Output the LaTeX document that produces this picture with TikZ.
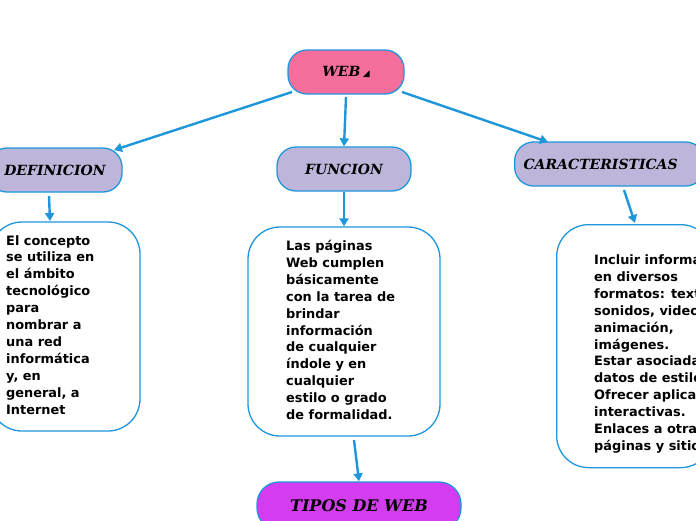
\documentclass[tikz,border=0pt]{standalone}
\usepackage{fontspec}
\setmainfont{DejaVu Sans}
\newfontfamily\hand{DejaVu Serif}
\usetikzlibrary{arrows.meta}
\definecolor{bl}{HTML}{1E96DC}
\definecolor{pk}{HTML}{F46E9C}
\definecolor{lav}{HTML}{BDB6DA}
\definecolor{mag}{HTML}{D33DEF}
\begin{document}
\begin{tikzpicture}[x=1pt,y=-1pt,
 head/.style={draw=bl,line width=1.3pt,rounded corners=19pt,font=\hand\bfseries\itshape\fontsize{14}{16}\selectfont,inner sep=0pt},
 box/.style={draw=bl,line width=1.3pt,rounded corners=32pt,fill=white},
 txt/.style={anchor=north west,align=left,font=\bfseries\fontsize{12.9}{16.9}\selectfont,inner sep=0pt},
 arr/.style={draw=bl,line width=2.4pt,-{Triangle[length=8pt,width=9pt]}}]
\useasboundingbox (0,0) rectangle (696,520);
\clip (0,0) rectangle (696,520);
\node[head,fill=pk,minimum width=116pt,minimum height=44pt] (web) at (346,72) {WEB\,{\fontsize{9}{9}\selectfont ◢}};
\node[head,fill=lav,minimum width=134pt,minimum height=44pt] (def) at (55,170) {DEFINICION};
\node[head,fill=lav,minimum width=134pt,minimum height=44pt] (fun) at (344,169) {FUNCION};
\node[head,fill=lav,minimum width=190pt,minimum height=44pt,anchor=west] (car) at (514,164) {\hspace*{-18pt}CARACTERISTICAS};
\node[box,minimum width=150pt,minimum height=209pt] (b1) at (65,326.5) {};
\node[box,minimum width=192pt,minimum height=209pt] (b2) at (344,331.5) {};
\node[box,minimum width=156pt,minimum height=243pt,anchor=north west] (b3) at (556,224) {};
\node[head,fill=mag,minimum width=204pt,minimum height=48pt,rounded corners=22pt,font=\hand\bfseries\itshape\fontsize{16}{18}\selectfont] (tip) at (359,506) {TIPOS DE WEB};
\node[txt] (t1) at (6,235) {El concepto\\se utiliza en\\el ámbito\\tecnológico\\para\\nombrar a\\una red\\informática\\y, en\\general, a\\Internet};
\node[txt] (t2) at (286,240) {Las páginas\\Web cumplen\\básicamente\\con la tarea de\\brindar\\información\\de cualquier\\índole y en\\cualquier\\estilo o grado\\de formalidad.};
\node[txt] (t3) at (594,254) {Incluir información\\en diversos\\formatos: texto,\\sonidos, videos,\\animación,\\imágenes.\\Estar asociada a\\datos de estilo.\\Ofrecer aplicaciones\\interactivas.\\Enlaces a otras\\páginas y sitios.};
\coordinate (w1) at (292,92); \coordinate (w2) at (346,97); \coordinate (w3) at (402,92);
\draw[arr] (w1) -- (114,150);
\draw[arr] (w2) -- (fun.north);
\draw[arr] (w3) -- (548,142);
\draw[arr] (49,196) -- (50,221);
\draw[arr] (fun.south) -- (b2.north);
\draw[arr] (624,190) -- (635,223);
\draw[arr] (354,440) -- (tip.north);
\end{tikzpicture}
\end{document}
